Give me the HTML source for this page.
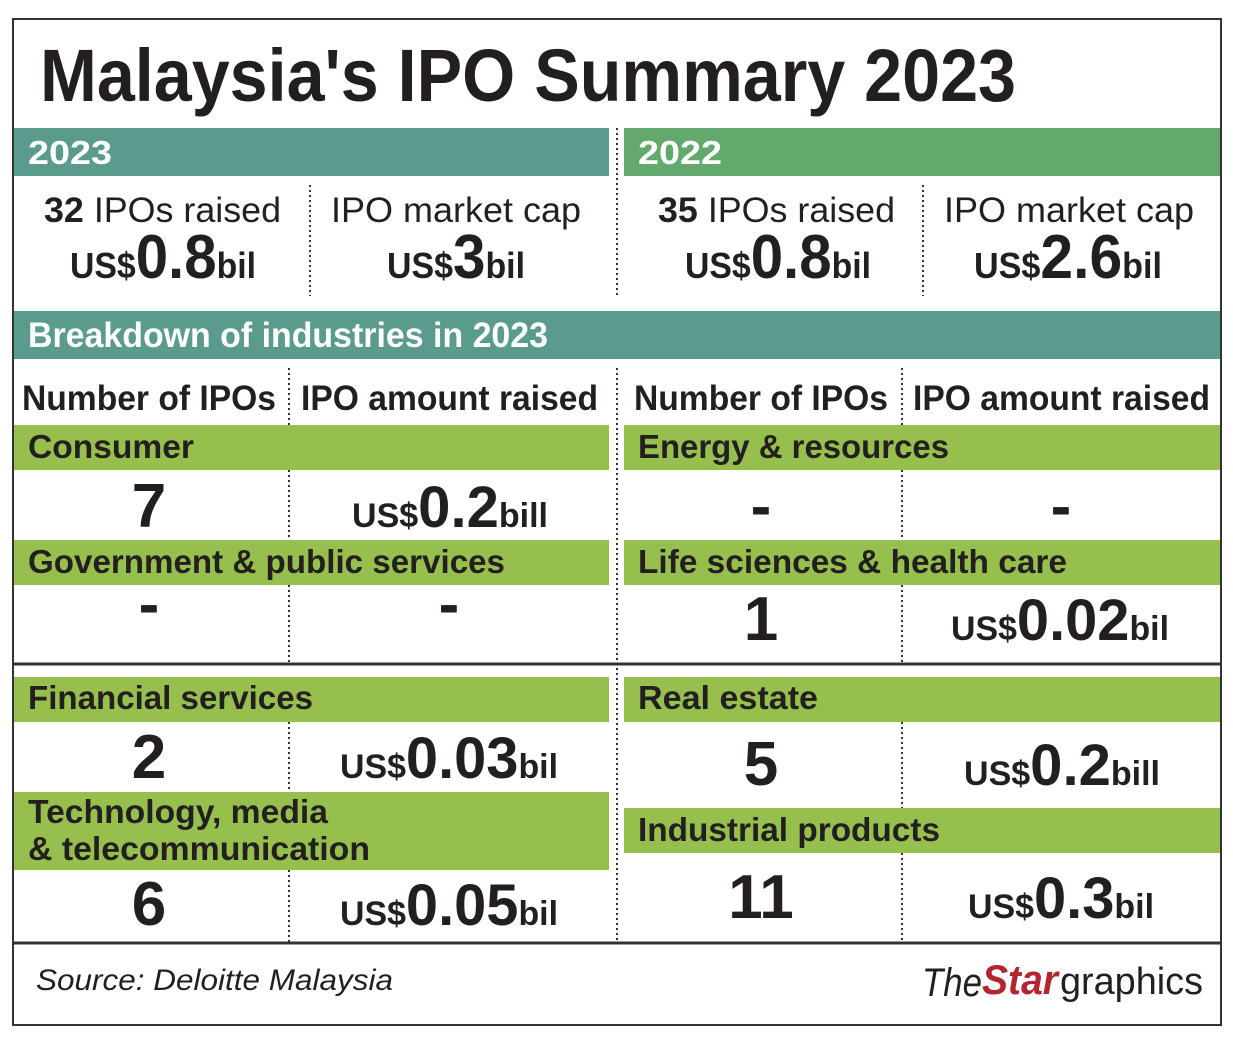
<!DOCTYPE html>
<html><head><meta charset="utf-8"><style>
html,body{margin:0;padding:0;background:#fff;}
svg{display:block;}
text{font-family:"Liberation Sans",sans-serif;fill:#231f20;}
.b{font-weight:bold;}
.w{fill:#fff;font-weight:bold;}
</style></head><body>
<svg width="1233" height="1037" viewBox="0 0 1233 1037" xmlns="http://www.w3.org/2000/svg">
<rect x="0" y="0" width="1233" height="1037" fill="#fff"/>
<rect x="13" y="19" width="1208" height="1006" fill="none" stroke="#333" stroke-width="2"/>
<text class="b" x="40" y="101" font-size="74" textLength="976" lengthAdjust="spacingAndGlyphs">Malaysia's IPO Summary 2023</text>

<rect x="14" y="128" width="595" height="48" fill="#5a9b8e"/>
<rect x="624" y="128" width="596" height="48" fill="#63a86c"/>
<text class="w" x="28" y="164" font-size="33" textLength="84" lengthAdjust="spacingAndGlyphs">2023</text>
<text class="w" x="638" y="164" font-size="33" textLength="84" lengthAdjust="spacingAndGlyphs">2022</text>

<g stroke="#333" stroke-width="2" stroke-dasharray="2,3">
<line x1="617" y1="128" x2="617" y2="296"/>
<line x1="310" y1="185" x2="310" y2="296"/>
<line x1="923" y1="185" x2="923" y2="296"/>
</g>

<text x="44" y="222" font-size="35" textLength="237" lengthAdjust="spacingAndGlyphs"><tspan font-weight="bold">32</tspan> IPOs raised</text>
<text x="331" y="222" font-size="35" textLength="250" lengthAdjust="spacingAndGlyphs">IPO market cap</text>
<text x="658" y="222" font-size="35" textLength="237" lengthAdjust="spacingAndGlyphs"><tspan font-weight="bold">35</tspan> IPOs raised</text>
<text x="944" y="222" font-size="35" textLength="250" lengthAdjust="spacingAndGlyphs">IPO market cap</text>

<text class="b" x="70" y="278" font-size="62" textLength="186" lengthAdjust="spacingAndGlyphs"><tspan font-size="36">US$</tspan>0.8<tspan font-size="36">bil</tspan></text>
<text class="b" x="387" y="278" font-size="62" textLength="138" lengthAdjust="spacingAndGlyphs"><tspan font-size="36">US$</tspan>3<tspan font-size="36">bil</tspan></text>
<text class="b" x="685" y="278" font-size="62" textLength="186" lengthAdjust="spacingAndGlyphs"><tspan font-size="36">US$</tspan>0.8<tspan font-size="36">bil</tspan></text>
<text class="b" x="974" y="278" font-size="62" textLength="188" lengthAdjust="spacingAndGlyphs"><tspan font-size="36">US$</tspan>2.6<tspan font-size="36">bil</tspan></text>

<rect x="14" y="311" width="1206" height="48" fill="#5a9b8e"/>
<text class="w" x="28" y="347" font-size="35" textLength="520" lengthAdjust="spacingAndGlyphs">Breakdown of industries in 2023</text>

<g stroke="#333" stroke-width="2" stroke-dasharray="2,3">
<line x1="289" y1="368" x2="289" y2="425"/>
<line x1="617" y1="368" x2="617" y2="662"/>
<line x1="902" y1="368" x2="902" y2="425"/>
<line x1="289" y1="470" x2="289" y2="540"/>
<line x1="902" y1="470" x2="902" y2="540"/>
<line x1="289" y1="585" x2="289" y2="662"/>
<line x1="902" y1="585" x2="902" y2="662"/>
<line x1="617" y1="668" x2="617" y2="942"/>
<line x1="289" y1="722" x2="289" y2="792"/>
<line x1="289" y1="870" x2="289" y2="942"/>
<line x1="902" y1="722" x2="902" y2="808"/>
<line x1="902" y1="853" x2="902" y2="942"/>
</g>

<text class="b" x="22" y="410" font-size="35" textLength="254" lengthAdjust="spacingAndGlyphs">Number of IPOs</text>
<text class="b" x="301" y="410" font-size="35" textLength="297" lengthAdjust="spacingAndGlyphs">IPO amount raised</text>
<text class="b" x="634" y="410" font-size="35" textLength="254" lengthAdjust="spacingAndGlyphs">Number of IPOs</text>
<text class="b" x="913" y="410" font-size="35" textLength="297" lengthAdjust="spacingAndGlyphs">IPO amount raised</text>

<g fill="#97bf4e">
<rect x="14" y="425" width="595" height="45"/>
<rect x="624" y="425" width="596" height="45"/>
<rect x="14" y="540" width="595" height="45"/>
<rect x="624" y="540" width="596" height="45"/>
<rect x="14" y="677" width="595" height="45"/>
<rect x="624" y="677" width="596" height="45"/>
<rect x="14" y="792" width="595" height="78"/>
<rect x="624" y="808" width="596" height="45"/>
</g>
<text class="b" x="28" y="458" font-size="33" textLength="166" lengthAdjust="spacingAndGlyphs">Consumer</text>
<text class="b" x="638" y="458" font-size="33" textLength="311" lengthAdjust="spacingAndGlyphs">Energy &amp; resources</text>
<text class="b" x="28" y="573" font-size="33" textLength="477" lengthAdjust="spacingAndGlyphs">Government &amp; public services</text>
<text class="b" x="638" y="573" font-size="33" textLength="429" lengthAdjust="spacingAndGlyphs">Life sciences &amp; health care</text>
<text class="b" x="28" y="709" font-size="33" textLength="285" lengthAdjust="spacingAndGlyphs">Financial services</text>
<text class="b" x="638" y="709" font-size="33" textLength="180" lengthAdjust="spacingAndGlyphs">Real estate</text>
<text class="b" x="28" y="823" font-size="33" textLength="300" lengthAdjust="spacingAndGlyphs">Technology, media</text>
<text class="b" x="28" y="860" font-size="33" textLength="342" lengthAdjust="spacingAndGlyphs">&amp; telecommunication</text>
<text class="b" x="638" y="841" font-size="33" textLength="302" lengthAdjust="spacingAndGlyphs">Industrial products</text>

<g class="b" font-size="62" text-anchor="middle">
<text class="b" x="149" y="527">7</text>
<text class="b" x="761" y="527">-</text>
<text class="b" x="1061" y="527">-</text>
<text class="b" x="149" y="625">-</text>
<text class="b" x="449" y="625">-</text>
<text class="b" x="761" y="640">1</text>
<text class="b" x="149" y="778">2</text>
<text class="b" x="761" y="785">5</text>
<text class="b" x="149" y="925">6</text>
<text class="b" x="761" y="918">11</text>
</g>

<text class="b" x="352" y="527" font-size="58" textLength="196" lengthAdjust="spacingAndGlyphs"><tspan font-size="34">US$</tspan>0.2<tspan font-size="34">bill</tspan></text>
<text class="b" x="951" y="640" font-size="58" textLength="218" lengthAdjust="spacingAndGlyphs"><tspan font-size="34">US$</tspan>0.02<tspan font-size="34">bil</tspan></text>
<text class="b" x="340" y="778" font-size="58" textLength="218" lengthAdjust="spacingAndGlyphs"><tspan font-size="34">US$</tspan>0.03<tspan font-size="34">bil</tspan></text>
<text class="b" x="964" y="785" font-size="58" textLength="196" lengthAdjust="spacingAndGlyphs"><tspan font-size="34">US$</tspan>0.2<tspan font-size="34">bill</tspan></text>
<text class="b" x="340" y="925" font-size="58" textLength="218" lengthAdjust="spacingAndGlyphs"><tspan font-size="34">US$</tspan>0.05<tspan font-size="34">bil</tspan></text>
<text class="b" x="968" y="918" font-size="58" textLength="186" lengthAdjust="spacingAndGlyphs"><tspan font-size="34">US$</tspan>0.3<tspan font-size="34">bil</tspan></text>

<line x1="13" y1="664" x2="1221" y2="664" stroke="#333" stroke-width="3"/>
<line x1="13" y1="943" x2="1221" y2="943" stroke="#333" stroke-width="3"/>

<text x="36" y="990" font-size="30" font-style="italic" textLength="357" lengthAdjust="spacingAndGlyphs">Source: Deloitte Malaysia</text>
<text x="922" y="996" font-size="40" font-style="italic" font-family="Liberation Serif, serif" textLength="60" lengthAdjust="spacingAndGlyphs">The</text>
<text x="982" y="994" font-size="42" font-weight="bold" font-style="italic" style="fill:#b5252f" textLength="76" lengthAdjust="spacingAndGlyphs">Star</text>
<text x="1060" y="994" font-size="38" textLength="143" lengthAdjust="spacingAndGlyphs">graphics</text>
</svg>
</body></html>
